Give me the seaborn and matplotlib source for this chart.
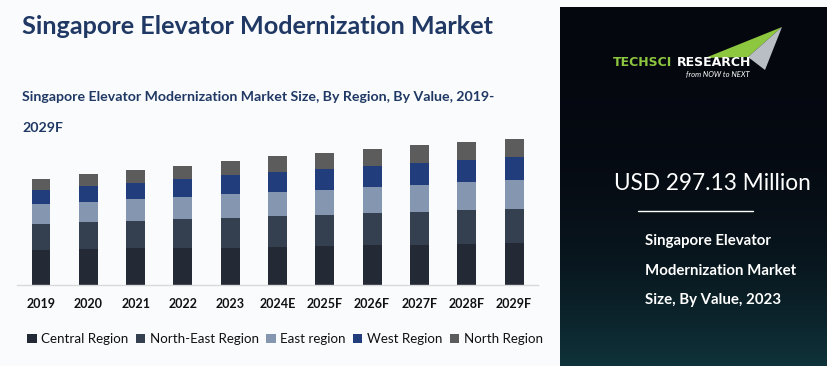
import numpy as np
import pandas as pd
import matplotlib
matplotlib.use("Agg")
import matplotlib.pyplot as plt
import seaborn as sns
from matplotlib.patches import Polygon, Patch
from matplotlib.lines import Line2D

# Data (USD Million)
years = ["2019", "2020", "2021", "2022", "2023", "2024E", "2025F", "2026F", "2027F", "2028F", "2029F"]
central = [84.0, 86.2, 87.5, 88.9, 89.4, 91.5, 93.4, 95.6, 96.8, 98.5, 100.6]
north_east = [62.5, 64.8, 67.0, 69.4, 71.5, 73.6, 75.4, 77.3, 79.0, 80.4, 81.9]
east = [48.0, 48.8, 52.0, 53.5, 57.4, 58.0, 60.0, 61.0, 64.5, 67.0, 69.5]
west = [33.6, 38.0, 39.0, 43.0, 45.5, 47.5, 50.0, 51.0, 52.5, 53.0, 53.5]
north = [26.4, 27.0, 30.5, 31.5, 33.33, 38.0, 38.5, 40.5, 41.5, 43.5, 45.5]

regions = ["Central Region", "North-East Region", "East region", "West Region", "North Region"]
colors = ["#232a35", "#343f4f", "#8597b0", "#213d7c", "#5c5c5c"]

sns.set_theme(style="white")
plt.rcParams["font.family"] = ["Lato", "DejaVu Sans"]

fig = plt.figure(figsize=(8.28, 3.66), dpi=100)
fig.patch.set_facecolor("#fafbfc")

# stacked bars: draw cumulative totals from the top layer down
df = pd.DataFrame({"year": years, "Central Region": central, "North-East Region": north_east,
                   "East region": east, "West Region": west, "North Region": north})
cum = df[regions].cumsum(axis=1)

ax = fig.add_axes([0.0210, 81 / 366, 0.6284, 150.25 / 366])
ax.set_facecolor("#fafbfc")
for reg, col in reversed(list(zip(regions, colors))):
    sns.barplot(x=df["year"], y=cum[reg], color=col, width=0.4, ax=ax,
                saturation=1, linewidth=0, order=years)
ax.set_ylim(0, 360)
ax.set_xlim(-0.5, len(years) - 0.5)
ax.set_xlabel("")
ax.set_ylabel("")
ax.set_yticks([])
for s in ["top", "right", "left"]:
    ax.spines[s].set_visible(False)
ax.spines["bottom"].set_color("#d9d9d9")
ax.spines["bottom"].set_linewidth(1)
ax.tick_params(axis="x", length=0, pad=9)
for lab in ax.get_xticklabels():
    lab.set_fontweight("bold")
    lab.set_fontsize(9)
    lab.set_color("#111111")

# titles
fig.text(22 / 828, 1 - 27 / 366, "Singapore Elevator Modernization Market", fontsize=18.2,
         fontweight="bold", color="#1f3864", va="center", ha="left")
fig.text(22 / 828, 1 - 97 / 366, "Singapore Elevator Modernization Market Size, By Region, By Value, 2019-",
         fontsize=10.2, fontweight="bold", color="#1f3864", va="center", ha="left")
fig.text(22 / 828, 1 - 128 / 366, "2029F", fontsize=10.2, fontweight="bold", color="#1f3864",
         va="center", ha="left")

# legend
handles = [Patch(facecolor=c, edgecolor="none") for c in colors]
leg = fig.legend(handles, regions, loc="center", bbox_to_anchor=(285 / 828, 1 - 339 / 366), ncol=5,
                 frameon=False, fontsize=9.6, handlelength=0.7, handleheight=0.7, handletextpad=0.35,
                 columnspacing=0.55)
for t in leg.get_texts():
    t.set_color("#111111")

# right dark panel
rp = fig.add_axes([560 / 828, 0, 268 / 828, 1 - 7 / 366])
grad = np.linspace(0, 1, 200)[:, None] ** 3
bg = np.zeros((200, 10, 3))
top_c = np.array([0.02, 0.03, 0.06])
bot_c = np.array([0.06, 0.2, 0.23])
bg[:] = top_c + (bot_c - top_c) * grad[:, :, None]
rp.imshow(bg, aspect="auto", extent=[0, 1, 0, 1], origin="upper")
rp.set_xlim(0, 1)
rp.set_ylim(0, 1)
rp.axis("off")

# logo
fig.patches.append(Polygon([[782 / 828, 1 - 27 / 366], [705 / 828, 1 - 58 / 366], [748 / 828, 1 - 57 / 366]],
                           closed=True, facecolor="#8dc63f", edgecolor="none", transform=fig.transFigure))
fig.patches.append(Polygon([[782 / 828, 1 - 27 / 366], [748 / 828, 1 - 57 / 366], [765 / 828, 1 - 70 / 366]],
                           closed=True, facecolor="#b9bec4", edgecolor="none", transform=fig.transFigure))
fig.text(613 / 828, 1 - 63 / 366, "TECHSCI", fontsize=9, fontweight="bold", color="#8dc63f",
         va="center", ha="left", family="DejaVu Sans")
fig.text(677 / 828, 1 - 63 / 366, "RESEARCH", fontsize=9, fontweight="bold", color="white",
         va="center", ha="left", family="DejaVu Sans")
fig.text(750 / 828, 1 - 74 / 366, "from NOW to NEXT", fontsize=5.5, style="italic", color="white",
         va="center", ha="right")

fig.text(712 / 828, 1 - 183 / 366, "USD 297.13 Million", fontsize=16.3, color="white",
         va="center", ha="center")
fig.lines.append(Line2D([638 / 828, 753 / 828], [1 - 211 / 366, 1 - 211 / 366], color="white",
                        linewidth=1, transform=fig.transFigure))
for txt, yy in [("Singapore Elevator", 241), ("Modernization Market", 271), ("Size, By Value, 2023", 300)]:
    fig.text(645 / 828, 1 - yy / 366, txt, fontsize=10.8, fontweight="bold", color="white",
             va="center", ha="left")

fig.savefig("out.png", dpi=100, facecolor=fig.get_facecolor())
